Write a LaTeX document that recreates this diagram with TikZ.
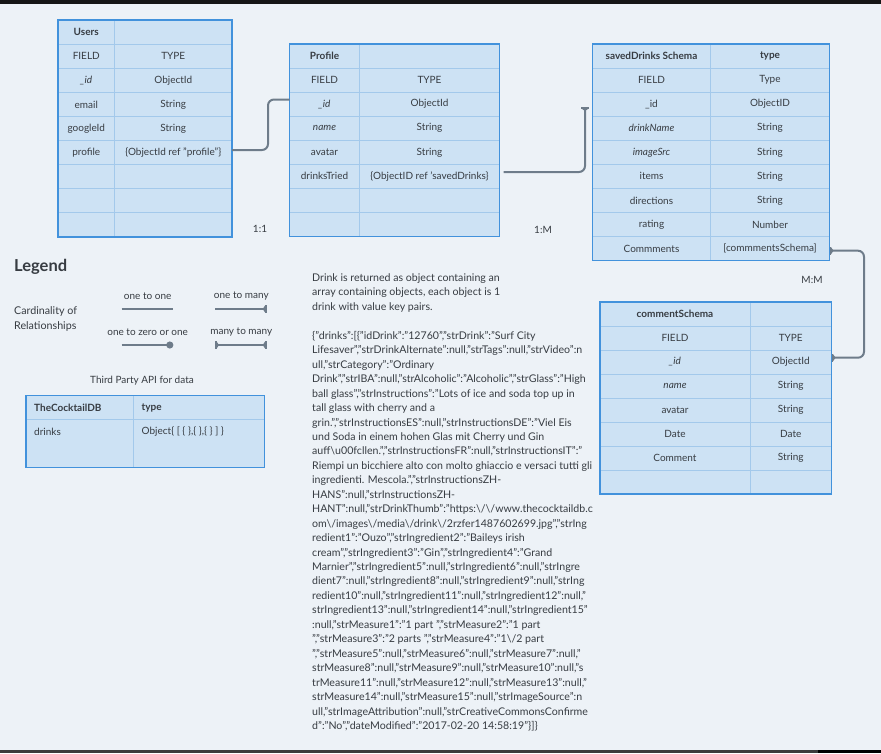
\documentclass[tikz,border=0pt]{standalone}
\usepackage{fontspec}
\setmainfont{Lato}
\usetikzlibrary{arrows.meta}
\definecolor{bgc}{RGB}{237,242,247}
\definecolor{tfill}{RGB}{205,226,244}
\definecolor{tborder}{RGB}{66,146,220}
\definecolor{tgrid}{RGB}{163,201,235}
\definecolor{conn}{RGB}{110,124,138}
\definecolor{txt}{RGB}{55,60,66}
\definecolor{barA}{RGB}{22,22,22}
\definecolor{barB}{RGB}{60,60,60}
\newcommand\bksl{\textbackslash}
\tikzset{
  tbl/.style={draw=tborder, line width=1.5pt, fill=tfill, inner sep=0pt, outer sep=0pt},
  gridl/.style={draw=tgrid, line width=0.8pt},
  cell/.style={font=\fontsize{10}{12}\selectfont, text=txt, inner sep=0pt},
  lcell/.style={cell, anchor=west},
  lbl/.style={font=\fontsize{10}{12}\selectfont, text=txt, inner sep=0pt},
  link/.style={draw=conn, line width=2pt, rounded corners=6pt},
  manyend/.style={-{Triangle[reversed,length=2.5pt,width=7pt]Bar[width=8pt,line width=1.5pt]}},
  manyboth/.style={{Bar[width=8pt,line width=1.5pt]Triangle[reversed,length=2.5pt,width=7pt]}-{Triangle[reversed,length=2.5pt,width=7pt]Bar[width=8pt,line width=1.5pt]}},
  dotend/.style={-{Circle[length=7pt]}},
}
% name, x left, y top, x divider, x right, y bottom, rows
\newcommand\dbtable[7]{%
  \node[tbl, anchor=north west, minimum width={#5pt-#2pt}, minimum height={#6pt-#3pt}] (#1) at (#2,#3) {};
  \pgfmathsetmacro\rowh{(#6-#3)/#7}
  \foreach \k in {1,...,\numexpr#7-1\relax}
    \draw[gridl] (#2+0.75, {#3+\k*\rowh}) -- (#5-0.75, {#3+\k*\rowh});
  \draw[gridl] (#4, #3+0.75) -- (#4, #6-0.75);
}
% name, x left, x divider, x right, y top, row height, list
\newcommand\filltable[7]{%
  \foreach \f/\t [count=\i] in {#7} {
    \node[cell] (#1-f\i) at ({(#2+#3)/2}, {#5+(\i-0.5)*#6}) {\f};
    \node[cell] (#1-t\i) at ({(#3+#4)/2}, {#5+(\i-0.5)*#6}) {\t};
  }%
}
\begin{document}
\begin{tikzpicture}[x=1pt,y=-1pt]
\useasboundingbox (0,0) rectangle (881,753);
\fill[bgc] (0,0) rectangle (881,753);
\fill[barA] (0,0) rectangle (881,4);
\fill[barB] (0,750) rectangle (818,753);
\fill[black] (818,750) rectangle (881,753);

% tables
\dbtable{users}{58}{20}{114.5}{232}{237}{9}
\filltable{users}{58}{114.5}{232}{20}{24.11}{{\bfseries Users}/{}, FIELD/TYPE, {\itshape\_id}/ObjectId, email/String, googleId/String, profile/{\{ObjectId ref "profile"\}}}

\dbtable{profile}{289.5}{44}{359.5}{499.5}{236.5}{8}
\filltable{profile}{289.5}{359.5}{499.5}{44}{24.06}{{\bfseries Profile}/{}, FIELD/TYPE, {\itshape\_id}/ObjectId, {\itshape name}/String, avatar/String, drinksTried/{\{ObjectID ref 'savedDrinks\}}}

\dbtable{saved}{592.5}{44}{710.5}{829.5}{260.5}{9}
\filltable{saved}{592.5}{710.5}{829.5}{44}{24.06}{{\bfseries savedDrinks Schema}/{\bfseries type}, FIELD/Type, \_id/ObjectID, {\itshape drinkName}/String, {\itshape imageSrc}/String, items/String, directions/String, rating/Number, Commments/{[commmentsSchema]}}

\dbtable{comment}{600}{302}{750}{831.5}{494}{8}
\filltable{comment}{600}{750}{831.5}{302}{24}{{\bfseries commentSchema}/{}, FIELD/TYPE, {\itshape\_id}/ObjectId, {\itshape name}/String, avatar/String, Date/Date, Comment/String}

% TheCocktailDB
\node[tbl, anchor=north west, minimum width=238.7pt, minimum height=72pt] (cocktail) at (26,395.5) {};
\draw[gridl] (26.75,419.5) -- (263.95,419.5);
\draw[gridl] (133.5,396.25) -- (133.5,466.75);
\node[lcell, font=\fontsize{10}{12}\selectfont\bfseries] (ck-h1) at (34,407.5) {TheCocktailDB};
\node[lcell, font=\fontsize{10}{12}\selectfont\bfseries] (ck-h2) at (141.5,407.5) {type};
\node[lcell] (ck-f1) at (34,431.5) {drinks};
\node[lcell] (ck-t1) at (141.5,431.5) {Object\{ [ \{ \},\{ \},\{ \} ] \}};

% connectors
\draw[link] (users.east |- 0,150) -- (268,150) |- (profile.west |- 0,99.5);
\coordinate (sd-in) at (585,107);
\draw[link, manyend] ([xshift=4pt]profile.east |- 0,172) -| (sd-in);
\draw[link, manyboth] (saved.east |- 0,250.7) -- (864,250.7) |- (comment.east |- 0,357.7);

\node[lbl] (r11) at (260,229) {1:1};
\node[lbl] (r1m) at (543,230) {1:M};
\node[lbl] (rmm) at (812,280) {M:M};

% legend
\node[lbl, anchor=west, font=\fontsize{16.5}{19}\selectfont\bfseries] (legend) at (14,267) {Legend};
\node[lbl, anchor=north west, align=left, font=\fontsize{10.7}{15}\selectfont] (card) at (14,306) {Cardinality of\\Relationships};
\node[lbl] (t11) at (147.7,296) {one to one};
\node[lbl] (t1m) at (241.3,296) {one to many};
\node[lbl] (t10) at (147.7,332) {one to zero or one};
\node[lbl] (tmm) at (241.3,332) {many to many};
\coordinate (a1) at (121.7,309); \coordinate (a2) at (173.3,309);
\coordinate (b1) at (215,309); \coordinate (b2) at (266.7,309);
\coordinate (c1) at (121.7,345); \coordinate (c2) at (173.3,345);
\coordinate (d1) at (215,345); \coordinate (d2) at (266.7,345);
\draw[link] (a1) -- (a2);
\draw[link, manyend] (b1) -- (b2);
\draw[link, dotend] (c1) -- (c2);
\draw[link, manyboth] (d1) -- (d2);
\node[lbl] (api-title) at (142,381) {Third Party API for data};

% API text
\node[lbl, anchor=north west, align=left, font=\fontsize{10.6}{14.45}\selectfont] (api) at (312,273.5) {Drink is returned as object containing an\\
array containing objects, each object is 1\\
drink with value key pairs.\\[14.45pt]
\{"drinks":[\{"idDrink":"12760","strDrink":"Surf City\\
Lifesaver","strDrinkAlternate":null,"strTags":null,"strVideo":n\\
ull,"strCategory":"Ordinary\\
Drink","strIBA":null,"strAlcoholic":"Alcoholic","strGlass":"High\\
ball glass","strInstructions":"Lots of ice and soda top up in\\
tall glass with cherry and a\\
grin.","strInstructionsES":null,"strInstructionsDE":"Viel Eis\\
und Soda in einem hohen Glas mit Cherry und Gin\\
auff\bksl u00fcllen.","strInstructionsFR":null,"strInstructionsIT":"\\
Riempi un bicchiere alto con molto ghiaccio e versaci tutti gli\\
ingredienti. Mescola.","strInstructionsZH-\\
HANS":null,"strInstructionsZH-\\
HANT":null,"strDrinkThumb":"https:\bksl/\bksl/www.thecocktaildb.c\\
om\bksl/images\bksl/media\bksl/drink\bksl/2rzfer1487602699.jpg","strIng\\
redient1":"Ouzo","strIngredient2":"Baileys irish\\
cream","strIngredient3":"Gin","strIngredient4":"Grand\\
Marnier","strIngredient5":null,"strIngredient6":null,"strIngre\\
dient7":null,"strIngredient8":null,"strIngredient9":null,"strIng\\
redient10":null,"strIngredient11":null,"strIngredient12":null,"\\
strIngredient13":null,"strIngredient14":null,"strIngredient15"\\
:null,"strMeasure1":"1 part ","strMeasure2":"1 part\\
","strMeasure3":"2 parts ","strMeasure4":"1\bksl/2 part\\
","strMeasure5":null,"strMeasure6":null,"strMeasure7":null,"\\
strMeasure8":null,"strMeasure9":null,"strMeasure10":null,"s\\
trMeasure11":null,"strMeasure12":null,"strMeasure13":null,"\\
strMeasure14":null,"strMeasure15":null,"strImageSource":n\\
ull,"strImageAttribution":null,"strCreativeCommonsConfirme\\
d":"No","dateModified":"2017-02-20 14:58:19"\}]\}};
\end{tikzpicture}
\end{document}
